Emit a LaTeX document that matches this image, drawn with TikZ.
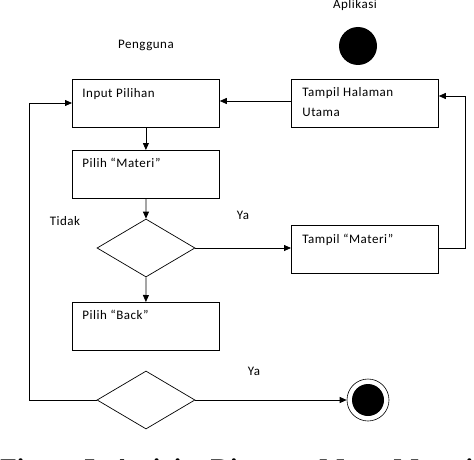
\documentclass[tikz,border=0pt]{standalone}
\usepackage{fontspec}
\setmainfont{Carlito}[LetterSpace=4]
\newfontfamily\capfont{Liberation Serif}
\usetikzlibrary{shapes.geometric,arrows.meta}
\begin{document}
\begin{tikzpicture}[x=1pt,y=-1pt,
  font=\fontsize{13}{20}\selectfont,
  line width=0.8pt,
  box/.style={draw, rectangle, minimum width=147pt, minimum height=48pt, inner sep=0pt, anchor=north west},
  txt/.style={anchor=north west, inner sep=0pt, align=left},
  dec/.style={draw, diamond, minimum width=98pt, minimum height=58pt, inner sep=0pt, line width=0.7pt},
  arr/.style={-{Triangle[length=7pt,width=6pt]}},
]
\useasboundingbox (0,0) rectangle (474,460);
\clip (0,0) rectangle (474,460);

\node (aplikasi) at (355,5) {Aplikasi};
\node (pengguna) at (146,45) {Pengguna};
\node[circle, fill=black, minimum size=38pt, inner sep=0pt] (start) at (358,46) {};

\node[box] (input) at (72,79) {};
\node[txt] (inputT) at (82,88) {Input Pilihan};
\node[box] (halaman) at (291,79) {};
\node[txt] (halamanT) at (302,87) {Tampil Halaman\\Utama};

\node[box] (materi) at (72,150) {};
\node[txt] (materiT) at (82,158) {Pilih “Materi”};

\node[dec] (d1) at (146,248) {};
\node (tidak) at (65,221) {Tidak};
\node (ya1) at (243,215) {Ya};

\node[box] (tmateri) at (291,225) {};
\node[txt] (tmateriT) at (302,234) {Tampil “Materi”};

\node[box] (back) at (72,302) {};
\node[txt] (backT) at (82,310) {Pilih “Back”};

\node[dec] (d2) at (146,400) {};
\node (ya2) at (254,371) {Ya};

\node[circle, draw, line width=0.6pt, minimum size=42pt, inner sep=0pt] (final) at (368,400) {};
\node[circle, fill=black, minimum size=32pt, inner sep=0pt] (finalin) at (368,400) {};

\draw[arr] (halaman.west |- 0,101) -- (input.east |- 0,101);
\draw[arr] (input.south) -- (materi.north);
\draw[arr] (materi.south) -- (d1.north);
\draw[arr] (d1.east) -- (tmateri.west |- d1.east);
\draw[arr] (d1.south) -- (back.north);
\draw[arr] (tmateri.east |- 0,248) -- (465,248) -- (465,96) -- (halaman.east |- 0,96);
\draw[arr] (d2.west) -- (29,400) -- (29,103) -- (input.west |- 0,103);
\draw[arr] (d2.east) -- (final.west);

\node[anchor=base west, inner sep=0pt, font=\capfont\fontsize{27}{27}\selectfont\bfseries] (caption) at (0,477) {Figure 5. Activity Diagram Menu Materi};
\end{tikzpicture}
\end{document}
